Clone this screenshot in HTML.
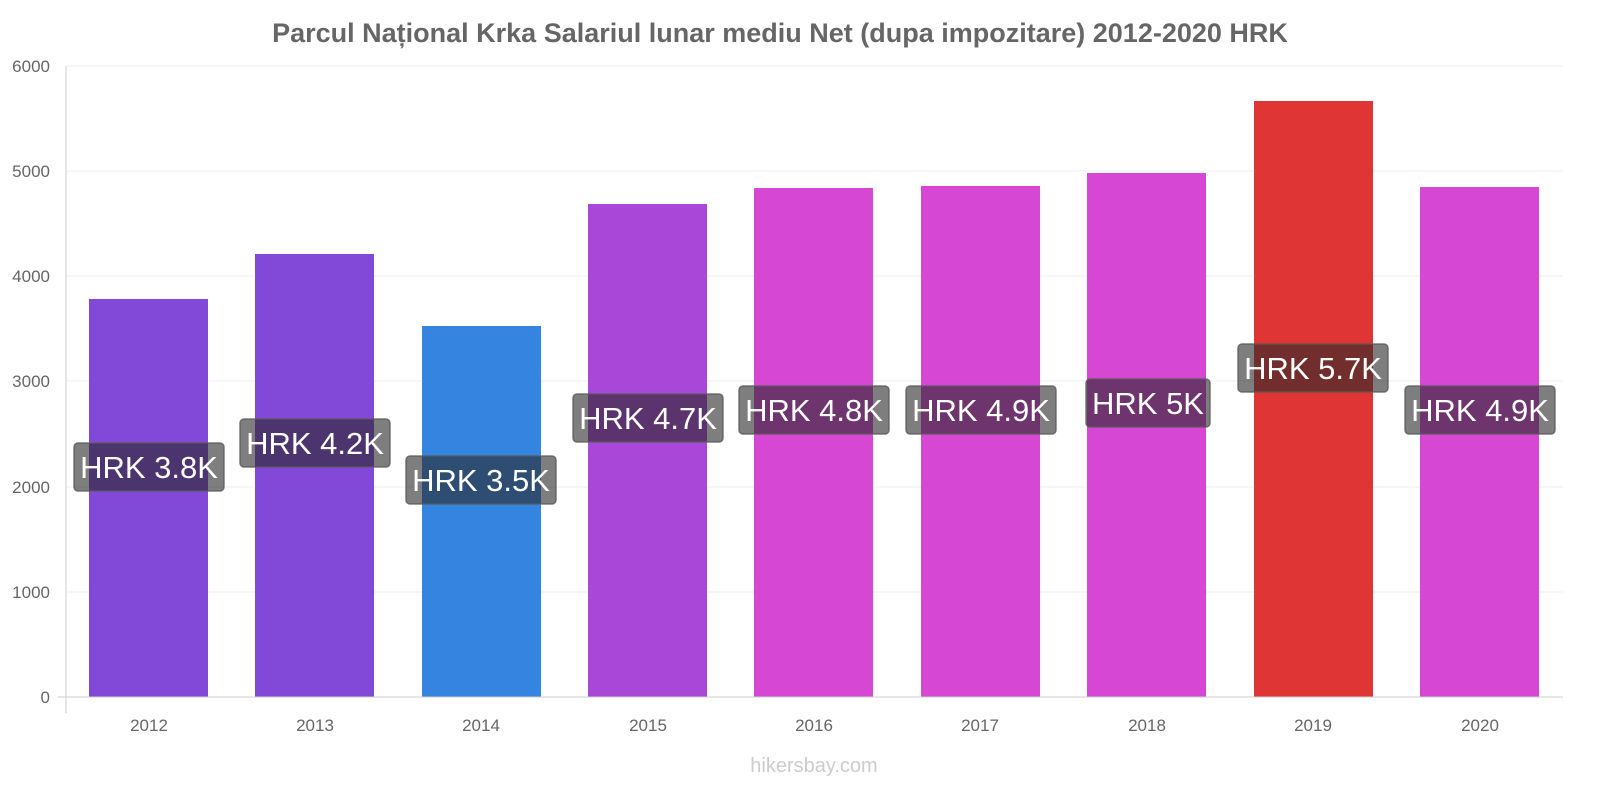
<!DOCTYPE html>
<html><head><meta charset="utf-8"><style>
body{margin:0;background:#fff;}
svg{display:block;font-family:"Liberation Sans",sans-serif;}
</style></head><body>
<svg width="1600" height="800" xmlns="http://www.w3.org/2000/svg">
<text x="780" y="42" text-anchor="middle" font-size="27" font-weight="bold" fill="#666">Parcul Național Krka Salariul lunar mediu Net (dupa impozitare) 2012-2020 HRK</text>
<g stroke="#eee" stroke-width="1">
<line x1="66" x2="1563" y1="66" y2="66"/><line x1="66" x2="1563" y1="171" y2="171"/>
<line x1="66" x2="1563" y1="276" y2="276"/><line x1="66" x2="1563" y1="381" y2="381"/>
<line x1="66" x2="1563" y1="487" y2="487"/><line x1="66" x2="1563" y1="592" y2="592"/>
</g>
<g font-size="17" fill="#666" text-anchor="end">
<text x="50" y="72">6000</text><text x="50" y="177">5000</text><text x="50" y="282">4000</text>
<text x="50" y="387">3000</text><text x="50" y="493">2000</text><text x="50" y="598">1000</text><text x="50" y="703">0</text>
</g>
<g>
<rect x="89" y="299" width="119" height="398" fill="#8249d9"/>
<rect x="255" y="254" width="119" height="443" fill="#8249d9"/>
<rect x="422" y="326" width="119" height="371" fill="#3584e0"/>
<rect x="588" y="204" width="119" height="493" fill="#a847d8"/>
<rect x="754" y="188" width="119" height="509" fill="#d647d4"/>
<rect x="921" y="186" width="119" height="511" fill="#d647d4"/>
<rect x="1087" y="173" width="119" height="524" fill="#d647d4"/>
<rect x="1254" y="101" width="119" height="596" fill="#e03535"/>
<rect x="1420" y="187" width="119" height="510" fill="#d647d4"/>
</g>
<line x1="66" x2="66" y1="66" y2="713" stroke="#ccc"/>
<line x1="58" x2="1563" y1="697" y2="697" stroke="#ccc"/>
<g font-size="17" fill="#666" text-anchor="middle">
<text x="149" y="731">2012</text><text x="315" y="731">2013</text><text x="481" y="731">2014</text>
<text x="648" y="731">2015</text><text x="814" y="731">2016</text><text x="980" y="731">2017</text>
<text x="1147" y="731">2018</text><text x="1313" y="731">2019</text><text x="1480" y="731">2020</text>
</g>
<g fill="rgba(40,40,40,0.6)" stroke="rgba(90,90,90,0.8)" stroke-width="1.5">
<rect x="74" y="443" width="150" height="48" rx="4"/>
<rect x="240" y="419" width="150" height="48" rx="4"/>
<rect x="406" y="456" width="150" height="48" rx="4"/>
<rect x="573" y="394" width="150" height="48" rx="4"/>
<rect x="739" y="386" width="150" height="48" rx="4"/>
<rect x="906" y="386" width="150" height="48" rx="4"/>
<rect x="1086" y="379" width="124" height="48" rx="4"/>
<rect x="1238" y="344" width="150" height="48" rx="4"/>
<rect x="1405" y="386" width="150" height="48" rx="4"/>
</g>
<g font-size="31" fill="#fff" text-anchor="middle">
<text x="149" y="478">HRK 3.8K</text><text x="315" y="454">HRK 4.2K</text><text x="481" y="491">HRK 3.5K</text>
<text x="648" y="429">HRK 4.7K</text><text x="814" y="421">HRK 4.8K</text><text x="981" y="421">HRK 4.9K</text>
<text x="1148" y="414">HRK 5K</text><text x="1313" y="379">HRK 5.7K</text><text x="1480" y="421">HRK 4.9K</text>
</g>
<text x="814" y="772" text-anchor="middle" font-size="20" fill="#ccc">hikersbay.com</text>
</svg>
</body></html>
